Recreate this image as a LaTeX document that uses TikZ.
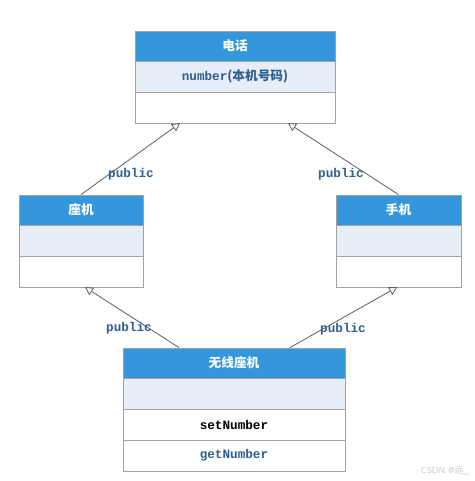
\documentclass[tikz,border=0pt]{standalone}
\usepackage{fontspec}
\setmonofont{Liberation Mono}
\newfontfamily\cjk{Noto Sans CJK SC}
\usetikzlibrary{arrows.meta,positioning}

\definecolor{headblue}{HTML}{3497DB}
\definecolor{rowblue}{HTML}{E8EEF8}
\definecolor{edgegray}{HTML}{A2A2A2}
\definecolor{linegray}{HTML}{5E5E5E}
\definecolor{textblue}{HTML}{2F5F8E}

\tikzset{
  classhead/.style={draw=edgegray, fill=headblue, text=white, minimum width=#1,
        minimum height=22.75pt, inner sep=0pt, font=\cjk\bfseries\fontsize{9.5}{11}\selectfont},
  attrrow/.style={draw=edgegray, fill=rowblue, text=textblue, minimum width=#1,
        minimum height=22.75pt, inner sep=0pt, font=\ttfamily\bfseries\fontsize{9.5}{11}\selectfont},
  oprow/.style={draw=edgegray, fill=white, minimum width=#1,
        minimum height=22.75pt, inner sep=0pt, font=\ttfamily\bfseries\fontsize{9.5}{11}\selectfont},
  inherit/.style={draw=linegray, line width=0.6pt, -{Triangle[open,length=6pt,width=6.5pt]}},
  lbl/.style={text=textblue, inner sep=0pt, font=\ttfamily\bfseries\fontsize{9.5}{11}\selectfont}
}

\begin{document}
\begin{tikzpicture}[x=0.75pt,y=-0.75pt]

\useasboundingbox (0,0) rectangle (474,481);

% 电话
\node [classhead=150pt] (phone) at (235,46) {电话};
\node [attrrow=150pt, below=0pt of phone] (phoneattr) {number{\cjk(本机号码)}};
\node [oprow=150pt, below=0pt of phoneattr] (phoneops) {};

% 座机
\node [classhead=93pt] (desk) at (81,210) {座机};
\node [attrrow=93pt, below=0pt of desk] (deskattr) {};
\node [oprow=93pt, below=0pt of deskattr] (deskops) {};

% 手机
\node [classhead=93.75pt] (mobile) at (398.5,210) {手机};
\node [attrrow=93.75pt, below=0pt of mobile] (mobileattr) {};
\node [oprow=93.75pt, below=0pt of mobileattr] (mobileops) {};

% 无线座机
\node [classhead=166.5pt] (cordless) at (234,363) {无线座机};
\node [attrrow=166.5pt, below=0pt of cordless] (cordlessattr) {};
\node [oprow=166.5pt, below=0pt of cordlessattr] (cordlessset) {setNumber};
\node [oprow=166.5pt, text=textblue, below=0pt of cordlessset] (cordlessget) {getNumber};

% inheritance
\draw [inherit] (desk.north) -- ([xshift=-41.25pt]phoneops.south);
\draw [inherit] (mobile.north) -- ([xshift=39.75pt]phoneops.south);
\draw [inherit] ([xshift=-41.25pt]cordless.north) -- ([xshift=3pt]deskops.south);
\draw [inherit] ([xshift=42pt]cordless.north) -- ([xshift=-1pt]mobileops.south);

\node [lbl] (pubdesk) at (131,174) {public};
\node [lbl] (pubmobile) at (341,174) {public};
\node [lbl] (pubcordA) at (129,328) {public};
\node [lbl] (pubcordB) at (343,329) {public};

\node [text=black!22, font=\sffamily\fontsize{6.5}{7}\selectfont] (mark) at (445,471) {CSDN @{\cjk 远}\_};

\end{tikzpicture}
\end{document}
